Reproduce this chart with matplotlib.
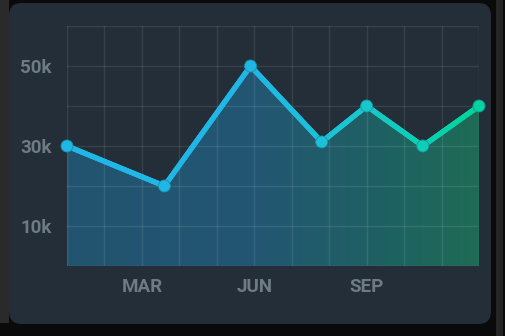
import numpy as np
import matplotlib
matplotlib.use("Agg")
import matplotlib.pyplot as plt
from matplotlib.collections import LineCollection
from matplotlib.colors import LinearSegmentedColormap
from matplotlib.patches import FancyBboxPatch, Rectangle

# data
months = ["JAN", "FEB", "MAR", "APR", "MAY", "JUN", "JUL", "AUG", "SEP", "OCT", "NOV", "DEC"]
x_pos = [0, 2.6, 4.9, 6.8, 8.0, 9.5, 11.0]
values = [30000, 20000, 50000, 31000, 40000, 30000, 40000]
y_ticks = [10000, 30000, 50000]
y_labels = ["10k", "30k", "50k"]
x_ticks = [2, 5, 8]
x_labels = ["MAR", "JUN", "SEP"]

plt.rcParams["font.family"] = ["Roboto", "DejaVu Sans"]

fig = plt.figure(figsize=(5.06, 3.36), dpi=100)
fig.patch.set_facecolor("#0a0a0a")

# frame pieces around the card
fig.patches.append(Rectangle((0, 0.04), 9 / 506, 0.96, transform=fig.transFigure,
                             facecolor="#2a2a2a", edgecolor="none", zorder=-2))
fig.patches.append(Rectangle((496 / 506, 0), 7 / 506, 1, transform=fig.transFigure,
                             facecolor="#252525", edgecolor="none", zorder=-2))
card = FancyBboxPatch((9 / 506, 12 / 336), 482 / 506, 321 / 336,
                      boxstyle="round,pad=0,rounding_size=0.025",
                      transform=fig.transFigure, facecolor="#232e38",
                      edgecolor="none", zorder=-1, mutation_aspect=506 / 336)
fig.patches.append(card)

ax = fig.add_axes([67 / 506, 70 / 336, 412 / 506, 240 / 336])
ax.set_facecolor("none")
ax.set_xlim(0, 11)
ax.set_ylim(0, 60000)

x = np.array(x_pos)
y = np.array(values)

# gradient fill under the line
fill_cmap = LinearSegmentedColormap.from_list(
    "fill", [(0, "#225470"), (0.45, "#235673"), (0.75, "#1f6063"), (1, "#1e6b55")])
poly = ax.fill_between(x, y, 0, color="none")
grad = np.linspace(0, 1, 256).reshape(1, -1)
img = ax.imshow(grad, cmap=fill_cmap, aspect="auto", extent=[0, 11, 0, 60000],
                origin="lower", zorder=1)
img.set_clip_path(poly.get_paths()[0], transform=ax.transData)

# grid
for gx in range(12):
    ax.axvline(gx, color="white", alpha=0.09, lw=1, zorder=2)
for gy in range(0, 60001, 10000):
    ax.axhline(gy, color="white", alpha=0.09, lw=1, zorder=2)

# gradient line
line_cmap = LinearSegmentedColormap.from_list(
    "line", [(0, "#20b6e6"), (0.45, "#20b6e6"), (0.7, "#1ac6d0"), (1, "#00d69c")])
xs = np.linspace(0, 11, 400)
ys = np.interp(xs, x, y)
pts = np.column_stack([xs, ys]).reshape(-1, 1, 2)
segs = np.concatenate([pts[:-1], pts[1:]], axis=1)
lc = LineCollection(segs, cmap=line_cmap, linewidth=3.8, capstyle="round",
                    joinstyle="round", zorder=3)
lc.set_array(xs[:-1] / 11)
lc.set_clim(0, 1)
ax.add_collection(lc)

ax.scatter(x, y, s=75, c=x / 11, cmap=line_cmap, vmin=0, vmax=1,
           edgecolors="#1a8fa8", linewidths=0.6, zorder=4, clip_on=False)

ax.set_xticks(x_ticks)
ax.set_xticklabels(x_labels)
ax.set_yticks(y_ticks)
ax.set_yticklabels(y_labels)
ax.tick_params(length=0, colors="#6e7a84", labelsize=13.5)
ax.tick_params(axis="y", pad=11)
ax.tick_params(axis="x", pad=9)
for lab in ax.get_xticklabels() + ax.get_yticklabels():
    lab.set_fontweight("bold")
for s in ax.spines.values():
    s.set_visible(False)

fig.savefig("out.png", dpi=100, facecolor=fig.get_facecolor())
